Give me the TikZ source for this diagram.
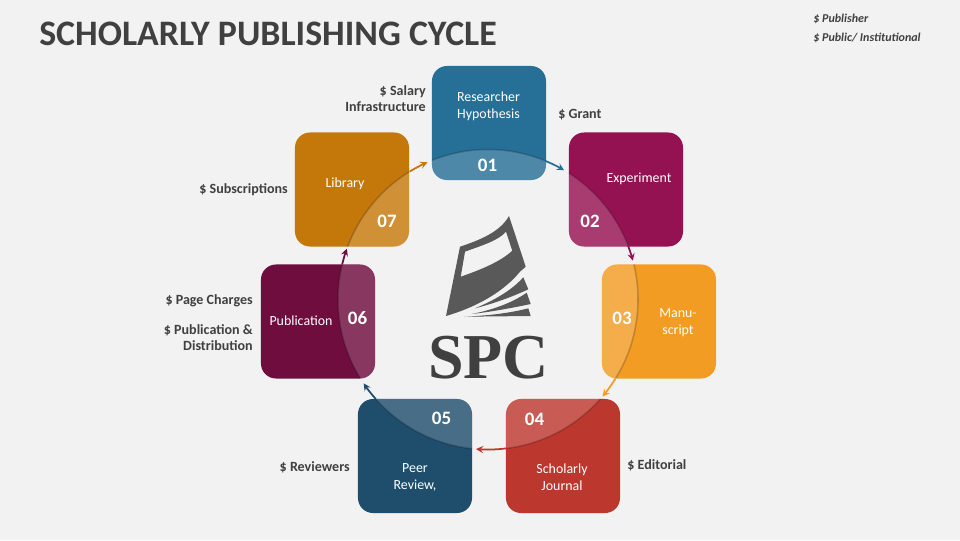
\documentclass[tikz,border=0pt]{standalone}
\usepackage{fontspec}
\setmainfont{Carlito}
\newfontfamily\spcfont{Liberation Serif}
\definecolor{sfondo}{HTML}{F2F2F2}
\definecolor{testo}{HTML}{404040}
\definecolor{logo}{HTML}{595959}
\definecolor{colA}{HTML}{266F97}
\definecolor{colB}{HTML}{951252}
\definecolor{colC}{HTML}{F39C24}
\definecolor{colD}{HTML}{BC372E}
\definecolor{colE}{HTML}{1F4E6D}
\definecolor{colF}{HTML}{6E0D3E}
\definecolor{colG}{HTML}{C5780A}

\begin{document}
\begin{tikzpicture}[x=0.025cm,y=-0.025cm]

% stili dei riquadri e delle scritte
\tikzset{mybox/.style={rectangle, draw=none, minimum size=2.85cm, inner sep=0pt, outer sep=0pt, rounded corners=0.375cm}}
\tikzset{mytext/.style={text=white, font=\fontsize{9.9}{11.9}\selectfont, align=center, inner sep=0pt}}
\tikzset{mynum/.style={text=white, font=\fontsize{13.5}{13.5}\selectfont\bfseries, inner sep=0pt}}
\tikzset{mylabel/.style={text=testo, font=\fontsize{10}{11.9}\selectfont\bfseries, inner sep=0pt}}
\tikzset{myarrow/.style={line width=1.25pt, -stealth}}

% sfondo e area del disegno
\fill[sfondo] (0,0) rectangle (960,540);
\useasboundingbox (0,0) rectangle (960,540);
\coordinate (c) at (488,299.5);

% titolo e legenda
\node[anchor=west, text=testo, inner sep=0pt, font=\fontsize{25.5}{25.5}\selectfont\bfseries] (title) at (39,34) {SCHOLARLY PUBLISHING CYCLE};
\node[anchor=west, text=testo, inner sep=0pt, font=\fontsize{8.55}{8.55}\selectfont\bfseries\itshape] (legendA) at (813,18.5) {\$ Publisher};
\node[anchor=west, text=testo, inner sep=0pt, font=\fontsize{8.55}{8.55}\selectfont\bfseries\itshape] (legendB) at (813,37.5) {\$ Public/ Institutional};

% riquadri con la parte dentro il cerchio schiarita
\foreach \n/\x/\y/\col in {1/489/123/colA,2/626/189.5/colB,3/659/321.5/colC,4/563/456/colD,5/415/456/colE,6/318/321.5/colF,7/352/189.5/colG}{
\node[mybox, fill=\col] (box\n) at (\x,\y) {};
\begin{scope}
\clip[rounded corners=0.375cm] (box\n.south west) rectangle (box\n.north east);
\fill[white, opacity=0.18] (c) circle [radius=150];
\draw[black, opacity=0.2, line width=1.1pt] (c) circle [radius=150];
\end{scope}
}

% frecce lungo il cerchio
\foreach \n/\a/\b/\col in {1/-67.5/-59.5/colA,2/-21/-15/colB,3/31.8/40.3/colC,4/83/94.6/colD,5/138.4/146/colE,6/193.5/199.8/colF,7/238.5/246.2/colG}{
\path (c) ++(\a:150) coordinate (from\n);
\draw[myarrow, \col] (from\n) arc [start angle=\a, end angle=\b, radius=150];
}

% numeri
\foreach \n/\x/\y/\t in {1/487.5/165.5/01,2/590/221.5/02,3/622/318.5/03,4/534.5/419.5/04,5/441.5/418.5/05,6/357.5/318.5/06,7/387/221.5/07}
\node[mynum] (num\n) at (\x,\y) {\t};

% testi dentro i riquadri
\foreach \n/\x/\y/\t in {1/488.5/106/{Researcher\\Hypothesis},2/639/179/Experiment,3/678/323/{Manu-\\script},4/562/477.5/{Scholarly\\Journal},5/415/477.5/{Peer\\Review,},6/301/321/Publication,7/345/184/Library}
\node[mytext] (name\n) at (\x,\y) {\t};

% etichette a destra
\foreach \n/\x/\y/\t in {a/558/115/{\$ Grant},b/627/465/{\$ Editorial}}
\node[mylabel, anchor=west] (lab\n) at (\x,\y) {\t};
% etichette a sinistra
\foreach \n/\x/\y/\t in {c/426/98.5/{\$ Salary\\Infrastructure},d/288/190/{\$ Subscriptions},e/253/301/{\$ Page Charges},f/253/337.5/{\$ Publication \&\\Distribution},g/350/467/{\$ Reviewers}}
\node[mylabel, anchor=east, align=right] (lab\n) at (\x,\y) {\t};

% libro del logo
\fill[logo, even odd rule] (509,216) .. controls (500,232) and (480,240) .. (460,246.7) -- (446,316) .. controls (480,306) and (505,290) .. (520,271.7) -- (525.7,266.7) -- cycle
(465,251.7) .. controls (480,246) and (498,241) .. (506,231.7) -- (512.3,250.7) .. controls (500,262) and (480,270) .. (460.7,276.7) -- cycle;
\fill[logo] (475,308.3) .. controls (495,300) and (512,290) .. (523.3,277.3) -- (528.3,289.3) .. controls (512,297) and (492,304) .. cycle;
\fill[logo] (471.7,314) .. controls (492,310) and (512,303) .. (526.7,292.7) -- (530.7,304) .. controls (512,308) and (490,312) .. cycle;
\fill[logo] (464,316.7) .. controls (490,315.5) and (510,313) .. (528.3,308.3) -- (530.7,316) -- cycle;

% scritta del logo
\node[text=testo, inner sep=0pt, font=\fontsize{45.5}{45.5}\spcfont\selectfont\bfseries] (spc) at (488.5,357.5) {SPC};

\end{tikzpicture}
\end{document}
